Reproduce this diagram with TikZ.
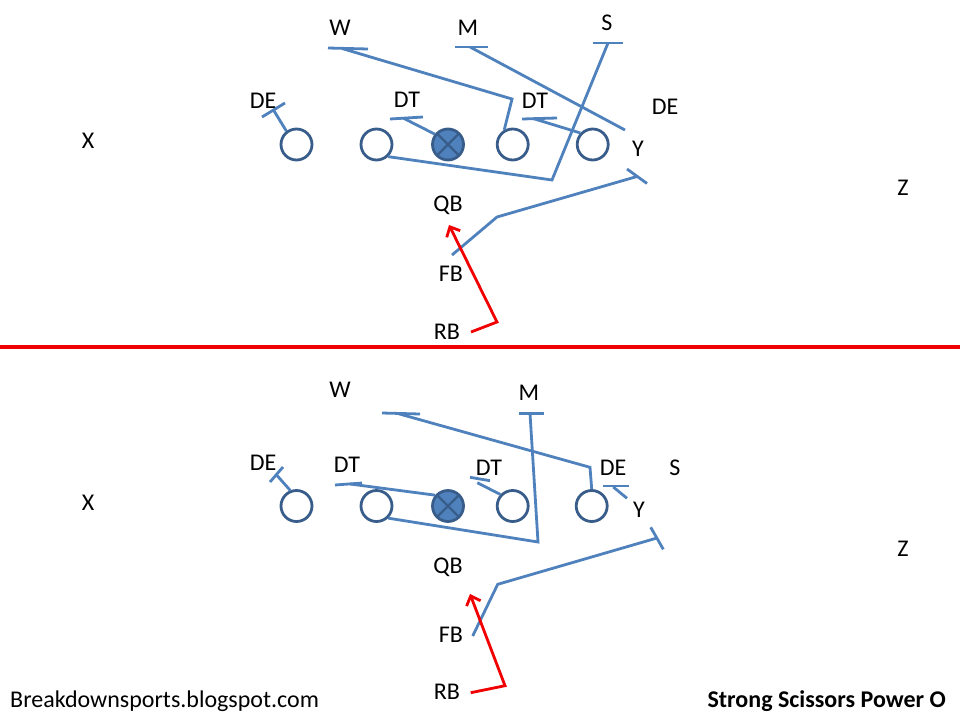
\documentclass[tikz,border=0pt]{standalone}
\usepackage{fontspec}
\setmainfont{Carlito}
\usetikzlibrary{arrows.meta}
\definecolor{routeblue}{RGB}{79,129,189}
\definecolor{olblue}{RGB}{56,93,138}
\definecolor{runred}{RGB}{240,0,0}
\tikzset{
  lbl/.style={font=\fontsize{24}{28}\selectfont, inner sep=0pt, text height=15.5pt, text depth=0pt},
  lineman/.style={circle, draw=olblue, line width=2.8pt, minimum size=31pt, inner sep=0pt},
  centerman/.style={lineman, fill=routeblue, path picture={
      \draw[olblue, line width=2.4pt] (path picture bounding box.north west) -- (path picture bounding box.south east)
        (path picture bounding box.north east) -- (path picture bounding box.south west);}},
  route/.style={draw=routeblue, line width=2.8pt, line join=miter},
  tbar/.style={draw=routeblue, line width=2.8pt},
  run/.style={draw=runred, line width=2.8pt, -{Straight Barb[length=8pt,width=15pt,line width=2.8pt]}},
  divider/.style={draw=runred, line width=3.2pt},
}
\begin{document}
\begin{tikzpicture}[x=1pt,y=-1pt]
\useasboundingbox (0,0) rectangle (960,720);

% ===================== TOP DIAGRAM =====================
% labels
\node[lbl] (tW) at (340,28) {W};
\node[lbl] (tM) at (468,28) {M};
\node[lbl] (tS) at (607,23) {S};
\node[lbl] (tDEl) at (263,101) {DE};
\node[lbl] (tDTl) at (407,100) {DT};
\node[lbl] (tDTr) at (535,101) {DT};
\node[lbl] (tDEr) at (665,107) {DE};
\node[lbl] (tY) at (638,149) {Y};
\node[lbl] (tX) at (88,141) {X};
\node[lbl] (tZ) at (903,188) {Z};
\node[lbl] (tQB) at (448,204) {QB};
\node[lbl] (tFB) at (451,274) {FB};
\node[lbl] (tRB) at (447,332) {RB};

% linemen
\node[lineman] (tc1) at (296.5,144.5) {};
\node[lineman] (tc2) at (376.5,144.5) {};
\node[centerman] (tc3) at (448,144.5) {};
\node[lineman] (tc4) at (512.7,144.5) {};
\node[lineman] (tc5) at (592.7,144.5) {};

% coordinates
\coordinate (tDEa) at (262,117); \coordinate (tDEb) at (285,103); \coordinate (tDEm) at (273.5,110);
\coordinate (tWa) at (328,48); \coordinate (tWb) at (368,49); \coordinate (tWm) at (342,48.5);
\coordinate (tWbend) at (512,99);
\coordinate (tMa) at (455,47); \coordinate (tMb) at (488,47); \coordinate (tMm) at (470,47);
\coordinate (tYs) at (625,130);
\coordinate (tDTla) at (390,119); \coordinate (tDTlb) at (423,117); \coordinate (tDTlm) at (403,118);
\coordinate (tDTra) at (522,119); \coordinate (tDTrb) at (557,118); \coordinate (tDTrm) at (533,118.5);
\coordinate (tSa) at (593,43); \coordinate (tSb) at (623,43); \coordinate (tSm) at (608,43);
\coordinate (tGbend) at (552,180);
\coordinate (tFBs) at (452,255); \coordinate (tFBbend) at (497,217); \coordinate (tFBe) at (637,176.5);
\coordinate (tFBa) at (627,169); \coordinate (tFBb) at (647,183.5);
\coordinate (tRBs) at (471,332); \coordinate (tRBbend) at (497,322); \coordinate (tRBe) at (449,225);

% blocks
\draw[route] (tc1.127) -- (tDEm);
\draw[tbar] (tDEa) -- (tDEb);
\draw[route] (tc4.120) -- (tWbend) -- (tWm);
\draw[tbar] (tWa) -- (tWb);
\draw[route] (tYs) -- (tMm);
\draw[tbar] (tMa) -- (tMb);
\draw[route] (tc3.142) -- (tDTlm);
\draw[tbar] (tDTla) -- (tDTlb);
\draw[route] (tc5.137) -- (tDTrm);
\draw[tbar] (tDTra) -- (tDTrb);
\draw[route] (tc2.-46) -- (tGbend) -- (tSm);
\draw[tbar] (tSa) -- (tSb);
\draw[route] (tFBs) -- (tFBbend) -- (tFBe);
\draw[tbar] (tFBa) -- (tFBb);
\draw[run] (tRBs) -- (tRBbend) -- (tRBe);

% divider
\coordinate (divL) at (0,347); \coordinate (divR) at (960,347);
\draw[divider] (divL) -- (divR);

% ===================== BOTTOM DIAGRAM =====================
\node[lbl] (bW) at (340,390) {W};
\node[lbl] (bM) at (529,393) {M};
\node[lbl] (bDEl) at (263,463) {DE};
\node[lbl] (bDTl) at (347,465) {DT};
\node[lbl] (bDTr) at (489,468) {DT};
\node[lbl] (bDEr) at (613,468) {DE};
\node[lbl] (bS) at (675,468) {S};
\node[lbl] (bY) at (639,510) {Y};
\node[lbl] (bX) at (88,503) {X};
\node[lbl] (bZ) at (903,549) {Z};
\node[lbl] (bQB) at (448,566) {QB};
\node[lbl] (bFB) at (451,635) {FB};
\node[lbl] (bRB) at (447,692) {RB};

\node[lineman] (bc1) at (296.5,506) {};
\node[lineman] (bc2) at (376.5,506) {};
\node[centerman] (bc3) at (448,506) {};
\node[lineman] (bc4) at (512.7,506) {};
\node[lineman] (bc5) at (591.7,506) {};

\coordinate (bDEa) at (270,482); \coordinate (bDEb) at (283,467); \coordinate (bDEm) at (277,475.5);
\coordinate (bDTla) at (335,485); \coordinate (bDTlb) at (362,483); \coordinate (bDTlm) at (350,484);
\coordinate (bGbend) at (538,542);
\coordinate (bMa) at (519,413.3); \coordinate (bMb) at (544,413.3); \coordinate (bMm) at (530,413.3);
\coordinate (bWa) at (382,413); \coordinate (bWb) at (420,414); \coordinate (bWm) at (397,413.3);
\coordinate (bWbend) at (590,467.3);
\coordinate (bDTra) at (470,477.3); \coordinate (bDTrb) at (490,480.7); \coordinate (bDTrm) at (477.3,482.7);
\coordinate (bDEra) at (602.7,486); \coordinate (bDErb) at (629.3,486); \coordinate (bDErm) at (613.3,487);
\coordinate (bYs) at (627,498.3);
\coordinate (bFBs) at (472.7,636); \coordinate (bFBbend) at (497.7,584.3); \coordinate (bFBe) at (657,538);
\coordinate (bFBa) at (650.7,527.3); \coordinate (bFBb) at (663.3,549.3);
\coordinate (bRBs) at (470.7,692.7); \coordinate (bRBbend) at (505,685.7); \coordinate (bRBe) at (470,594);

\draw[route] (bc1.112) -- (bDEm);
\draw[tbar] (bDEa) -- (bDEb);
\draw[route] (bc3.140) -- (bDTlm);
\draw[tbar] (bDTla) -- (bDTlb);
\draw[route] (bc2.-46) -- (bGbend) -- (bMm);
\draw[tbar] (bMa) -- (bMb);
\draw[route] (bc5.north) -- (bWbend) -- (bWm);
\draw[tbar] (bWa) -- (bWb);
\draw[route] (bc4.137) -- (bDTrm);
\draw[tbar] (bDTra) -- (bDTrb);
\draw[route] (bYs) -- (bDErm);
\draw[tbar] (bDEra) -- (bDErb);
\draw[route] (bFBs) -- (bFBbend) -- (bFBe);
\draw[tbar] (bFBa) -- (bFBb);
\draw[run] (bRBs) -- (bRBbend) -- (bRBe);

% footer
\node[lbl, anchor=west] (site) at (10,700) {Breakdownsports.blogspot.com};
\node[lbl, anchor=east, font=\fontsize{24}{28}\selectfont\bfseries] (title) at (946,700) {Strong Scissors Power O};
\end{tikzpicture}
\end{document}
